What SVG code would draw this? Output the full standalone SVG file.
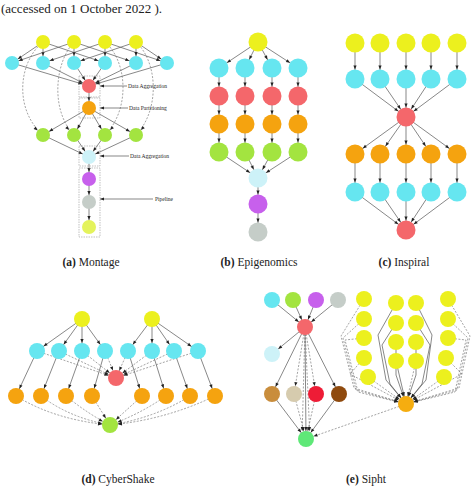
<svg xmlns="http://www.w3.org/2000/svg" width="474" height="496" viewBox="0 0 474 496">
<defs>
<style>
.e{fill:none;stroke:#555;stroke-width:0.7}
.d{fill:none;stroke:#666;stroke-width:0.6;stroke-dasharray:2 1.5}
.box{fill:none;stroke:#999;stroke-width:0.6;stroke-dasharray:1.5 1}
.lbl{font-family:"Liberation Serif",serif;font-size:5.5px;fill:#222}
.cap{font-family:"Liberation Serif",serif;font-size:11.5px;fill:#222}
.y{fill:#ecf01e}.c{fill:#66e6f0}.r{fill:#f4676b}.o{fill:#f5a30f}.g{fill:#a3e440}
.lc{fill:#cdf2f8}.p{fill:#c760ec}.gr{fill:#c5cdc8}.ly{fill:#e4f35c}
</style>
<marker id="a0" markerUnits="userSpaceOnUse" orient="auto" refX="4" refY="0" overflow="visible"><path d="M0,-1.6L4,0L0,1.6z" fill="#222"/></marker>
<marker id="a7" markerUnits="userSpaceOnUse" orient="auto" refX="11" refY="0" overflow="visible"><path d="M0,-1.6L4,0L0,1.6z" fill="#222"/></marker>
<marker id="a8" markerUnits="userSpaceOnUse" orient="auto" refX="12" refY="0" overflow="visible"><path d="M0,-1.6L4,0L0,1.6z" fill="#222"/></marker>
<marker id="a9" markerUnits="userSpaceOnUse" orient="auto" refX="13.5" refY="0" overflow="visible"><path d="M0,-1.6L4,0L0,1.6z" fill="#222"/></marker>
</defs>
<rect width="474" height="496" fill="#fff"/>
<text x="1" y="13" font-family="Liberation Serif, serif" font-size="13" fill="#222">(accessed on 1 October 2022 ).</text>

<g id="connectors">
<!-- Montage -->
<g class="e" marker-end="url(#a7)">
<path d="M43,42L12,63"/><path d="M43,42L43,63"/><path d="M43,42L105,63"/>
<path d="M74,42L12,63"/><path d="M74,42L74,63"/><path d="M74,42L136,63"/>
<path d="M105,42L43,63"/><path d="M105,42L105,63"/><path d="M105,42L167,63"/>
<path d="M136,42L74,63"/><path d="M136,42L136,63"/><path d="M136,42L167,63"/>
<path d="M12,63L89,86"/><path d="M43,63L89,86"/><path d="M74,63L89,86"/><path d="M105,63L89,86"/><path d="M136,63L89,86"/><path d="M167,63L89,86"/>
<path d="M89,86L89,108"/>
<path d="M89,108L43,135"/><path d="M89,108L74,135"/><path d="M89,108L105,135"/><path d="M89,108L136,135"/>
<path d="M43,135L89,157"/><path d="M74,135L89,157"/><path d="M105,135L89,157"/><path d="M136,135L89,157"/>
<path d="M89,157L89,179"/><path d="M89,179L89,202"/><path d="M89,202L89,227"/>
</g>
<g class="d" marker-end="url(#a7)">
<path d="M43,42C18,62 14,110 43,135"/>
<path d="M74,42C55,62 50,110 74,135"/>
<path d="M105,42C128,62 130,110 105,135"/>
<path d="M136,42C158,62 160,110 136,135"/>
</g>
<g class="e" marker-end="url(#a0)">
<path d="M127,86L100,86"/>
<path d="M128,108L100,108"/>
<path d="M129,156L100,156"/>
<path d="M153,199L100,199"/>
</g>
<!-- Epigenomics -->
<g class="e" marker-end="url(#a9)">
<path d="M258,42L219,68"/><path d="M258,42L245,68"/><path d="M258,42L272,68"/><path d="M258,42L298,68"/>
<path d="M219,68L219,96"/><path d="M245,68L245,96"/><path d="M272,68L272,96"/><path d="M298,68L298,96"/>
<path d="M219,96L219,124"/><path d="M245,96L245,124"/><path d="M272,96L272,124"/><path d="M298,96L298,124"/>
<path d="M219,124L219,152"/><path d="M245,124L245,152"/><path d="M272,124L272,152"/><path d="M298,124L298,152"/>
<path d="M219,152L258,178"/><path d="M245,152L258,178"/><path d="M272,152L258,178"/><path d="M298,152L258,178"/>
<path d="M258,178L258,204"/><path d="M258,204L258,232"/>
</g>
<!-- Inspiral -->
<g class="e" marker-end="url(#a9)">
<path d="M355,43L355,79"/><path d="M380,43L380,79"/><path d="M406,43L406,79"/><path d="M431,43L431,79"/><path d="M457,43L457,79"/>
<path d="M355,79L406,117"/><path d="M380,79L406,117"/><path d="M406,79L406,117"/><path d="M431,79L406,117"/><path d="M457,79L406,117"/>
<path d="M406,117L355,154"/><path d="M406,117L380,154"/><path d="M406,117L406,154"/><path d="M406,117L431,154"/><path d="M406,117L457,154"/>
<path d="M355,154L355,192"/><path d="M380,154L380,192"/><path d="M406,154L406,192"/><path d="M431,154L431,192"/><path d="M457,154L457,192"/>
<path d="M355,192L406,230"/><path d="M380,192L406,230"/><path d="M406,192L406,230"/><path d="M431,192L406,230"/><path d="M457,192L406,230"/>
</g>
<!-- CyberShake -->
<g class="e" marker-end="url(#a8)">
<path d="M82,319L37,351"/><path d="M82,319L59,351"/><path d="M82,319L82,351"/><path d="M82,319L105,351"/>
<path d="M152,319L128,351"/><path d="M152,319L152,351"/><path d="M152,319L174,351"/><path d="M152,319L198,351"/>
<path d="M37,351L16,396"/><path d="M59,351L41,396"/><path d="M82,351L66,396"/><path d="M105,351L92,396"/>
<path d="M128,351L142,396"/><path d="M152,351L166,396"/><path d="M174,351L190,396"/><path d="M198,351L215,396"/>
</g>
<g class="d" marker-end="url(#a8)">
<path d="M37,351L116,378"/><path d="M59,351L116,378"/><path d="M82,351L116,378"/><path d="M105,351L116,378"/>
<path d="M128,351L116,378"/><path d="M152,351L116,378"/><path d="M174,351L116,378"/><path d="M198,351L116,378"/>
<path d="M16,396Q55,420 110,425"/><path d="M41,396Q70,418 110,425"/><path d="M66,396Q88,414 110,425"/><path d="M92,396L110,425"/>
<path d="M142,396L110,425"/><path d="M166,396Q140,414 110,425"/><path d="M190,396Q155,418 110,425"/><path d="M215,396Q165,420 110,425"/>
</g>
<!-- Sipht -->
<g class="e" marker-end="url(#a8)">
<path d="M272,300L305,327"/><path d="M293,300L305,327"/><path d="M316,300L305,327"/><path d="M338,300L305,327"/>
<path d="M305,327L272,354"/><path d="M305,327L272,394"/><path d="M305,327L339,394"/><path d="M305,327L306,439"/>
<path d="M272,394L306,439"/><path d="M339,394L306,439"/>
<path d="M396,303L378,335L386,380L406,404"/><path d="M396,323L382,345L390,384L406,404"/><path d="M396,342L396,375L406,404"/><path d="M396,361L406,404"/>
<path d="M416,303L432,335L426,380L406,404"/><path d="M416,323L430,345L422,384L406,404"/><path d="M416,342L416,375L406,404"/>
</g>
<g class="d" marker-end="url(#a8)">
<path d="M305,327L294,394"/><path d="M305,327L316,394"/><path d="M305,327L302,439"/><path d="M305,327L310,439"/>
<path d="M294,394L306,439"/><path d="M316,394L306,439"/><path d="M406,404L306,439"/>
<path d="M364,299L341,336L354,388L406,404"/><path d="M364,319L343,338L356,390L406,404"/><path d="M364,338L345,340L358,392L406,404"/><path d="M364,358L350,374L406,404"/><path d="M368,377L406,404"/>
<path d="M448,299L470,336L459,388L406,404"/><path d="M448,319L468,338L457,390L406,404"/><path d="M448,338L466,340L455,392L406,404"/><path d="M446,358L462,374L406,404"/><path d="M444,377L406,404"/>
<path d="M416,361L406,404"/>
</g>
</g>

<g id="montage-boxes">
<rect class="box" x="79" y="76" width="21" height="21"/>
<rect class="box" x="79" y="98" width="21" height="20"/>
<rect class="box" x="79" y="146" width="21" height="20"/>
<rect class="box" x="79" y="168" width="21" height="69"/>
<text class="lbl" x="128" y="88">Data Aggregation</text>
<text class="lbl" x="129" y="110">Data Partitioning</text>
<text class="lbl" x="130" y="158">Data Aggregation</text>
<text class="lbl" x="155" y="201">Pipeline</text>
</g>

<g id="montage">
<circle id="m-y1" class="y" cx="43" cy="42" r="7"/><circle id="m-y2" class="y" cx="74" cy="42" r="7"/><circle id="m-y3" class="y" cx="105" cy="42" r="7"/><circle id="m-y4" class="y" cx="136" cy="42" r="7"/>
<circle id="m-c1" class="c" cx="12" cy="63" r="7"/><circle id="m-c2" class="c" cx="43" cy="63" r="7"/><circle id="m-c3" class="c" cx="74" cy="63" r="7"/><circle id="m-c4" class="c" cx="105" cy="63" r="7"/><circle id="m-c5" class="c" cx="136" cy="63" r="7"/><circle id="m-c6" class="c" cx="167" cy="63" r="7"/>
<circle id="m-r" class="r" cx="89" cy="86" r="7"/>
<circle id="m-o" class="o" cx="89" cy="108" r="7"/>
<circle id="m-g1" class="g" cx="43" cy="135" r="7"/><circle id="m-g2" class="g" cx="74" cy="135" r="7"/><circle id="m-g3" class="g" cx="105" cy="135" r="7"/><circle id="m-g4" class="g" cx="136" cy="135" r="7"/>
<circle id="m-lc" class="lc" cx="89" cy="157" r="7"/>
<circle id="m-p" class="p" cx="89" cy="179" r="7"/>
<circle id="m-gr" class="gr" cx="89" cy="202" r="7"/>
<circle id="m-ly" class="ly" cx="89" cy="227" r="7"/>
<text class="cap" x="91" y="266" text-anchor="middle"><tspan font-weight="bold">(a)</tspan> Montage</text>
</g>

<g id="epigenomics">
<circle class="y" cx="258" cy="42" r="9.5"/>
<circle class="c" cx="219" cy="68" r="9.5"/><circle class="c" cx="245" cy="68" r="9.5"/><circle class="c" cx="272" cy="68" r="9.5"/><circle class="c" cx="298" cy="68" r="9.5"/>
<circle class="r" cx="219" cy="96" r="9.5"/><circle class="r" cx="245" cy="96" r="9.5"/><circle class="r" cx="272" cy="96" r="9.5"/><circle class="r" cx="298" cy="96" r="9.5"/>
<circle class="o" cx="219" cy="124" r="9.5"/><circle class="o" cx="245" cy="124" r="9.5"/><circle class="o" cx="272" cy="124" r="9.5"/><circle class="o" cx="298" cy="124" r="9.5"/>
<circle class="g" cx="219" cy="152" r="9.5"/><circle class="g" cx="245" cy="152" r="9.5"/><circle class="g" cx="272" cy="152" r="9.5"/><circle class="g" cx="298" cy="152" r="9.5"/>
<circle class="lc" cx="258" cy="178" r="9.5"/>
<circle class="p" cx="258" cy="204" r="9.5"/>
<circle class="gr" cx="258" cy="232" r="9.5"/>
<text class="cap" x="259" y="266" text-anchor="middle"><tspan font-weight="bold">(b)</tspan> Epigenomics</text>
</g>

<g id="inspiral">
<circle class="y" cx="355" cy="43" r="9.5"/><circle class="y" cx="380" cy="43" r="9.5"/><circle class="y" cx="406" cy="43" r="9.5"/><circle class="y" cx="431" cy="43" r="9.5"/><circle class="y" cx="457" cy="43" r="9.5"/>
<circle class="c" cx="355" cy="79" r="9.5"/><circle class="c" cx="380" cy="79" r="9.5"/><circle class="c" cx="406" cy="79" r="9.5"/><circle class="c" cx="431" cy="79" r="9.5"/><circle class="c" cx="457" cy="79" r="9.5"/>
<circle class="r" cx="406" cy="117" r="9.5"/>
<circle class="o" cx="355" cy="154" r="9.5"/><circle class="o" cx="380" cy="154" r="9.5"/><circle class="o" cx="406" cy="154" r="9.5"/><circle class="o" cx="431" cy="154" r="9.5"/><circle class="o" cx="457" cy="154" r="9.5"/>
<circle class="c" cx="355" cy="192" r="9.5"/><circle class="c" cx="380" cy="192" r="9.5"/><circle class="c" cx="406" cy="192" r="9.5"/><circle class="c" cx="431" cy="192" r="9.5"/><circle class="c" cx="457" cy="192" r="9.5"/>
<circle class="r" cx="406" cy="230" r="9.5"/>
<text class="cap" x="404" y="266" text-anchor="middle"><tspan font-weight="bold">(c)</tspan> Inspiral</text>
</g>

<g id="cybershake">
<circle class="y" cx="82" cy="319" r="8"/><circle class="y" cx="152" cy="319" r="8"/>
<circle class="c" cx="37" cy="351" r="8"/><circle class="c" cx="59" cy="351" r="8"/><circle class="c" cx="82" cy="351" r="8"/><circle class="c" cx="105" cy="351" r="8"/><circle class="c" cx="128" cy="351" r="8"/><circle class="c" cx="152" cy="351" r="8"/><circle class="c" cx="174" cy="351" r="8"/><circle class="c" cx="198" cy="351" r="8"/>
<circle class="r" cx="116" cy="378" r="8"/>
<circle class="o" cx="16" cy="396" r="8"/><circle class="o" cx="41" cy="396" r="8"/><circle class="o" cx="66" cy="396" r="8"/><circle class="o" cx="92" cy="396" r="8"/><circle class="o" cx="142" cy="396" r="8"/><circle class="o" cx="166" cy="396" r="8"/><circle class="o" cx="190" cy="396" r="8"/><circle class="o" cx="215" cy="396" r="8"/>
<circle class="g" cx="110" cy="425" r="8"/>
<text class="cap" x="118" y="483" text-anchor="middle"><tspan font-weight="bold">(d)</tspan> CyberShake</text>
</g>

<g id="sipht">
<circle class="c" cx="272" cy="300" r="8"/><circle class="g" cx="293" cy="300" r="8"/><circle class="p" cx="316" cy="300" r="8"/><circle class="gr" cx="338" cy="300" r="8"/>
<circle class="r" cx="305" cy="327" r="8"/>
<circle class="lc" cx="272" cy="354" r="8"/>
<circle cx="272" cy="394" r="8" fill="#c98d3c"/><circle cx="294" cy="394" r="8" fill="#d6cbae"/><circle cx="316" cy="394" r="8" fill="#ee1c36"/><circle cx="339" cy="394" r="8" fill="#8f4a0e"/>
<circle cx="306" cy="439" r="8" fill="#5fe878"/>
<circle cx="406" cy="404" r="8" fill="#f5ad10"/>
<circle class="y" cx="364" cy="299" r="8"/><circle class="y" cx="364" cy="319" r="8"/><circle class="y" cx="364" cy="338" r="8"/><circle class="y" cx="364" cy="358" r="8"/><circle class="y" cx="368" cy="377" r="8"/>
<circle class="y" cx="396" cy="303" r="8"/><circle class="y" cx="396" cy="323" r="8"/><circle class="y" cx="396" cy="342" r="8"/><circle class="y" cx="396" cy="361" r="8"/>
<circle class="y" cx="416" cy="303" r="8"/><circle class="y" cx="416" cy="323" r="8"/><circle class="y" cx="416" cy="342" r="8"/><circle class="y" cx="416" cy="361" r="8"/>
<circle class="y" cx="448" cy="299" r="8"/><circle class="y" cx="448" cy="319" r="8"/><circle class="y" cx="448" cy="338" r="8"/><circle class="y" cx="446" cy="358" r="8"/><circle class="y" cx="444" cy="377" r="8"/>
<text class="cap" x="366" y="483" text-anchor="middle"><tspan font-weight="bold">(e)</tspan> Sipht</text>
</g>
</svg>
